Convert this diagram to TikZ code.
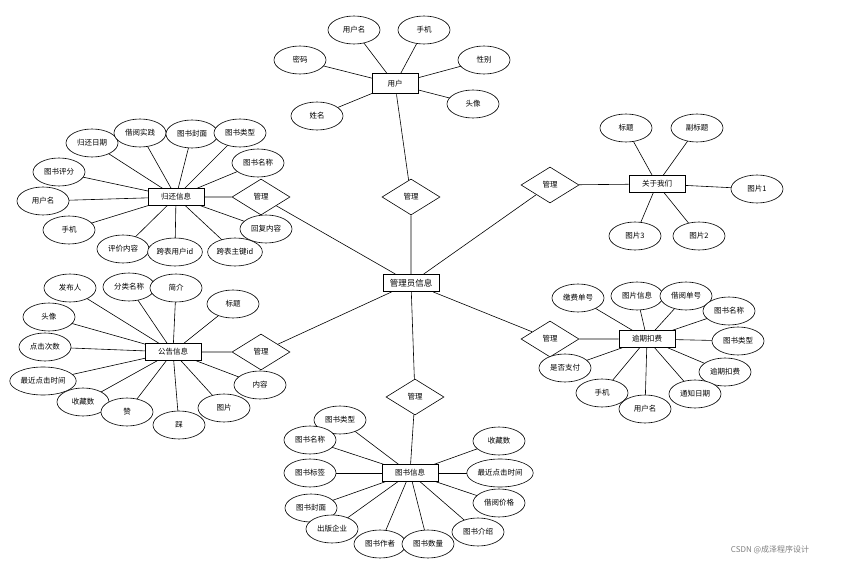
\documentclass[tikz,border=0pt]{standalone}
\usepackage{fontspec}
\setmainfont{Liberation Sans}
\newfontfamily\cjk{Noto Sans CJK SC}
\usetikzlibrary{shapes.geometric}
\pgfdeclarelayer{bg}\pgfsetlayers{bg,main}
\begin{document}
\begin{tikzpicture}[x=1pt,y=-1pt,
 every node/.style={font=\cjk\fontsize{7.5}{8}\selectfont},
 att/.style={ellipse,draw,fill=white,minimum width=52,minimum height=28,inner sep=1pt,line width=0.6pt},
 en/.style={rectangle,draw,fill=white,line width=1pt,minimum width=56,minimum height=17,inner sep=2pt},
 rel/.style={diamond,draw,fill=white,aspect=1.6,minimum width=58,minimum height=36,inner sep=0pt,line width=0.6pt},
 ln/.style={line width=0.6pt}]
\useasboundingbox (0,0) rectangle (844,567);
% entities
\node[en,font=\cjk\fontsize{8.5}{9}\selectfont] (c) at (411,283) {管理员信息};
\node[en,minimum width=46,minimum height=20] (u) at (395,84) {用户};
\node[rel] (m1) at (411,197) {管理};
\node[att] (u1) at (354,30) {用户名};
\node[att] (u2) at (424,30) {手机};
\node[att] (u3) at (300,60) {密码};
\node[att] (u4) at (484,60) {性别};
\node[att] (u5) at (317,116) {姓名};
\node[att] (u6) at (473,104) {头像};
% about
\node[en] (a) at (657,184) {关于我们};
\node[rel] (m2) at (550,185) {管理};
\node[att] (a1) at (626,128) {标题};
\node[att] (a2) at (697,128) {副标题};
\node[att] (a3) at (757,189) {图片1};
\node[att] (a4) at (635,236) {图片3};
\node[att] (a5) at (699,236) {图片2};
% return
\node[en] (r) at (176,197) {归还信息};
\node[rel] (m3) at (261,197) {管理};
\node[att] (r1) at (92,143) {归还日期};
\node[att] (r2) at (140,133) {借阅实践};
\node[att] (r3) at (192,134) {图书封面};
\node[att] (r4) at (240,133) {图书类型};
\node[att] (r5) at (258,163) {图书名称};
\node[att] (r6) at (59,172) {图书评分};
\node[att] (r7) at (43,201) {用户名};
\node[att] (r8) at (69,230) {手机};
\node[att] (r9) at (123,249) {评价内容};
\node[att] (r12) at (266,229) {回复内容};
\node[att] (r11) at (235,252) {跨表主键id};
\node[att] (r10) at (175,252) {跨表用户id};
% notice
\node[en] (n) at (173,352) {公告信息};
\node[rel] (m4) at (261,352) {管理};
\node[att] (n1) at (70,288) {发布人};
\node[att] (n2) at (129,287) {分类名称};
\node[att] (n3) at (176,288) {简介};
\node[att] (n4) at (233,304) {标题};
\node[att] (n5) at (49,317) {头像};
\node[att] (n6) at (45,347) {点击次数};
\node[att,minimum width=58] (n7) at (43,381) {最近点击时间};
\node[att] (n8) at (83,402) {收藏数};
\node[att] (n9) at (127,412) {赞};
\node[att] (n10) at (179,425) {踩};
\node[att] (n11) at (224,408) {图片};
\node[att] (n12) at (260,385) {内容};
% overdue
\node[en] (o) at (647,339) {逾期扣费};
\node[rel] (m5) at (550,339) {管理};
\node[att] (o1) at (578,298) {缴费单号};
\node[att] (o2) at (637,296) {图片信息};
\node[att] (o3) at (686,296) {借阅单号};
\node[att] (o4) at (729,311) {图书名称};
\node[att] (o5) at (738,341) {图书类型};
\node[att] (o6) at (725,372) {逾期扣费};
\node[att] (o7) at (565,368) {是否支付};
\node[att] (o8) at (602,393) {手机};
\node[att] (o9) at (645,409) {用户名};
\node[att] (o10) at (695,394) {通知日期};
% book
\node[en] (b) at (410,473) {图书信息};
\node[rel] (m6) at (415,397) {管理};
\node[att] (b1) at (340,420) {图书类型};
\node[att] (b2) at (310,440) {图书名称};
\node[att] (b3) at (310,473) {图书标签};
\node[att] (b4) at (311,508) {图书封面};
\node[att] (b5) at (332,529) {出版企业};
\node[att] (b6) at (380,544) {图书作者};
\node[att] (b7) at (428,544) {图书数量};
\node[att] (b8) at (478,532) {图书介绍};
\node[att] (b9) at (499,441) {收藏数};
\node[att,minimum width=58] (b10) at (500,473) {最近点击时间};
\node[att] (b11) at (499,503) {借阅价格};
\node[text=gray,font=\cjk\fontsize{8}{9}\selectfont] (w) at (770,550) {CSDN @成泽程序设计};
\begin{pgfonlayer}{bg}
\fill[white] (0,0) rectangle (844,567);
\draw[ln] (c)--(m1)--(u) (c)--(m2)--(a) (c)--(m3)--(r) (c)--(m4)--(n) (c)--(m5)--(o) (c)--(m6)--(b);
\foreach \i in {1,...,6} \draw[ln] (u.center)--(u\i.center);
\foreach \i in {1,...,5} \draw[ln] (a.center)--(a\i.center);
\foreach \i in {1,...,12} \draw[ln] (r.center)--(r\i.center);
\foreach \i in {1,...,12} \draw[ln] (n.center)--(n\i.center);
\foreach \i in {1,...,10} \draw[ln] (o.center)--(o\i.center);
\foreach \i in {1,...,11} \draw[ln] (b.center)--(b\i.center);
\end{pgfonlayer}
\end{tikzpicture}
\end{document}
